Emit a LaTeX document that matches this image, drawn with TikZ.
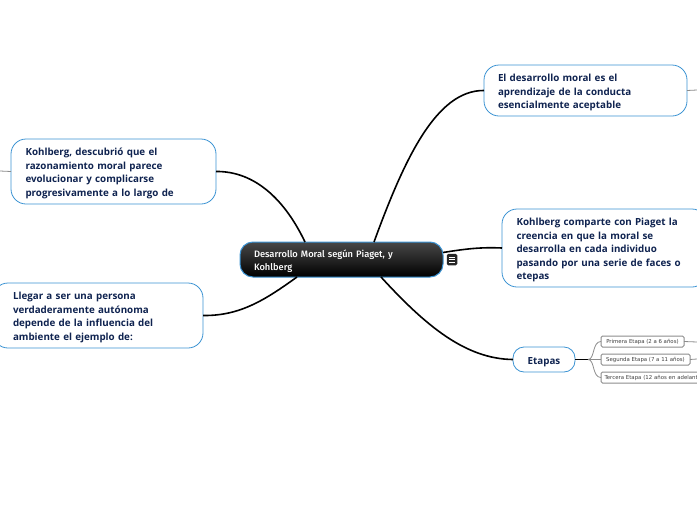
\documentclass[tikz,border=0pt]{standalone}
\usepackage{fontspec}
\setmainfont{Open Sans}
\newfontfamily\rootfont{Fira Sans Medium}
\newfontfamily\leaffont{DejaVu Sans}
\usetikzlibrary{positioning}
\definecolor{topicblue}{HTML}{3B93D3}
\definecolor{topicink}{HTML}{0F2350}
\definecolor{leafgray}{HTML}{8C8C8C}
\begin{document}
\begin{tikzpicture}[x=1pt,y=-1pt]
        \tikzstyle{every node}=[inner sep=0pt,outer sep=0pt]
        \tikzstyle{rootnode}=[draw=topicblue,line width=1pt,rounded corners=13pt,minimum width=203pt,minimum height=35pt,top color=black!72,bottom color=black,text=white,font=\rootfont\fontsize{9.3}{13.2}\selectfont,align=left,text width=175pt,execute at begin node=\rule{0pt}{11pt}]
        \tikzstyle{topicnode}=[draw=topicblue,line width=0.8pt,fill=white,rounded corners=15pt,text=topicink,font=\fontsize{9.8}{13.5}\selectfont\bfseries,align=left,execute at begin node=\rule{0pt}{11.5pt}]
        \tikzstyle{leafnode}=[draw=leafgray,line width=1pt,fill=white,rounded corners=1.5pt,minimum height=11pt,text=black!75,font=\leaffont\fontsize{5.4}{7}\selectfont,align=left]
        \tikzstyle{mainline}=[draw=black,line width=1.6pt]
        \tikzstyle{stubline}=[draw=leafgray,line width=0.8pt]
        \useasboundingbox (0,0) rectangle (697,520);

        \node[rootnode] (root) at (341.5,259.5) {Desarrollo Moral según Piaget, y\\Kohlberg};
        \node[topicnode,minimum width=203pt,minimum height=51pt,text width=175pt] (moral) at (585.5,90.5) {El desarrollo moral es el\\aprendizaje de la conducta\\esencialmente aceptable};
        \node[topicnode,minimum width=205pt,minimum height=78pt,text width=176pt] (piaget) at (604.5,248) {Kohlberg comparte con Piaget la\\creencia en que la moral se\\desarrolla en cada individuo\\pasando por una serie de faces o\\etepas};
        \node[topicnode,minimum width=205pt,minimum height=65pt,text width=176pt] (razon) at (113.5,171.5) {Kohlberg, descubrió que el\\razonamiento moral parece\\evolucionar y complicarse\\progresivamente a lo largo de};
        \node[topicnode,minimum width=210pt,minimum height=65pt,text width=170pt] (autonoma) at (98,315.5) {Llegar a ser una persona\\verdaderamente autónoma\\depende de la influencia del\\ambiente el ejemplo de:};
        \node[topicnode,minimum width=62pt,minimum height=25pt,rounded corners=11pt,align=center] (etapas) at (544,359.5) {Etapas};

        \node[leafnode,minimum width=83pt] (primera) at (642.5,341.5) {Primera Etapa (2 a 6 años)};
        \node[leafnode,minimum width=89pt] (segunda) at (645.5,359.5) {Segunda Etapa (7 a 11 años)};
        \node[leafnode,minimum width=115pt,text width=108pt,anchor=west] (tercera) at (601,377.5) {Tercera Etapa (12 años en adelante)};

        % menu icon next to the root
        \node[fill=black!85,rounded corners=1.5pt,minimum width=10.5pt,minimum height=11.5pt] (menu) at (452,259.5) {};
        \foreach \yy in {-2.4,0,2.4}
            \draw[white,line width=0.8pt] ([xshift=-3pt,yshift=\yy pt]menu.center) -- ([xshift=3pt,yshift=\yy pt]menu.center);

        % free ends of the stubs
        \coordinate (razonend) at (0,171);
        \coordinate (moralend) at (697,90);
        \coordinate (primeraend) at (697,342);
        \coordinate (segundaend) at (697,359);
        \coordinate (fork) at (588,359.5);

        \path[mainline] (root.north east) ++(-69,0) coordinate (rootmoral) .. controls (404,160) and (436,90) .. (moral.west);
        \path[mainline] (root.east) ++(0,-7) coordinate (rootpiaget) .. controls (465,249) and (480,247) .. (piaget.west);
        \path[mainline] (root.south east) ++(-62,0) coordinate (rootetapas) .. controls (425,325) and (465,359) .. (etapas.west);
        \path[mainline] (root.north west) ++(65,0) coordinate (rootrazon) .. controls (285,200) and (255,171) .. (razon.east);
        \path[mainline] (root.south west) ++(57,0) coordinate (rootautonoma) .. controls (265,300) and (240,316) .. (autonoma.east);

        \draw[stubline] (razon.west) -- (razonend);
        \draw[stubline] (moral.east) -- (moralend);
        \draw[stubline] (primera.east) -- (primeraend);
        \draw[stubline] (segunda.east) -- (segundaend);
        \draw[black,line width=1pt] (etapas.east) -- (fork);
        \draw[stubline] (fork) .. controls (595,359.5) and (592,341.5) .. (primera.west);
        \draw[stubline] (fork) -- (segunda.west);
        \draw[stubline] (fork) .. controls (595,359.5) and (592,377.5) .. (tercera.west);
\end{tikzpicture}
\end{document}
